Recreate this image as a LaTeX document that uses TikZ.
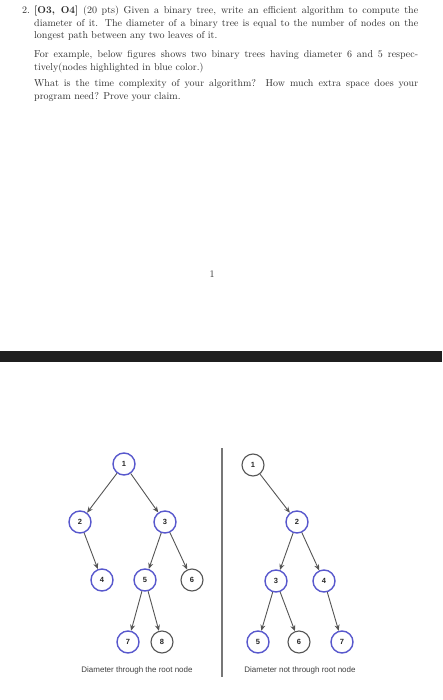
\documentclass[tikz,border=0pt]{standalone}
\usepackage{fontspec}
\usetikzlibrary{arrows.meta}
\newfontfamily\capfont{Liberation Sans}
\definecolor{treeblue}{RGB}{88,88,205}
\definecolor{treegray}{RGB}{85,85,85}
\definecolor{inkgray}{RGB}{45,45,45}
\begin{document}
\begin{tikzpicture}[x=1pt,y=-1pt]
        \tikzstyle{every node} = [inner sep=0pt]
        \tikzstyle{line} = [anchor=base west,font=\fontsize{10}{12}\selectfont,text=inkgray]
        \tikzstyle{bluenode} = [circle,draw=treeblue,line width=1.4pt,fill=white,minimum size=22pt,font=\capfont\fontsize{7.5}{8}\selectfont\bfseries,text=black!85]
        \tikzstyle{graynode} = [bluenode,draw=treegray,line width=1.1pt]
        \tikzstyle{edge} = [draw=treegray,line width=0.9pt,-{Stealth[length=6pt,width=5pt]}]
        \tikzstyle{caption} = [font=\capfont\fontsize{8}{9}\selectfont,text=black!75]
        \useasboundingbox (0,0) rectangle (442,700);
        \fill[white] (0,0) rectangle (442,700);

            % question text
            \begin{scope}
                \node[line] (num) at (22,14) {2.};
                \node[line] (t1) at (34,14) {\makebox[384pt][s]{\textbf{[O3, O4]} (20 pts) Given a binary tree, write an efficient algorithm to compute the}};
                \node[line] (t2) at (34,27) {\makebox[384pt][s]{diameter of it. The diameter of a binary tree is equal to the number of nodes on the}};
                \node[line] (t3) at (34,39) {longest path between any two leaves of it.};
                \node[line] (t4) at (34,58) {\makebox[384pt][s]{For example, below figures shows two binary trees having diameter 6 and 5 respec-}};
                \node[line] (t5) at (34,71) {tively(nodes highlighted in blue color.)};
                \node[line] (t6) at (34,87) {\makebox[384pt][s]{What is the time complexity of your algorithm? How much extra space does your}};
                \node[line] (t7) at (34,100) {program need? Prove your claim.};
                \node[line,anchor=base] (page) at (212,277) {1};
            \end{scope}

            \fill[black!88] (0,351) rectangle (442,362);

            % left tree: diameter through the root
            \begin{scope}
                \node[bluenode] (l1) at (124,464) {1};
                \node[bluenode] (l2) at (80,522) {2};
                \node[bluenode] (l3) at (165,522) {3};
                \node[bluenode] (l4) at (102,580) {4};
                \node[bluenode] (l5) at (145,580) {5};
                \node[graynode] (l6) at (192,580) {6};
                \node[bluenode] (l7) at (128,642) {7};
                \node[graynode] (l8) at (162,642) {8};
                \foreach \a/\b in {l1/l2,l1/l3,l2/l4,l3/l5,l3/l6,l5/l7,l5/l8}{
                    \draw[edge] (\a) -- (\b);
                }
                \node[caption] (lcap) at (137,670) {Diameter through the root node};
            \end{scope}

            \draw[treegray!80,line width=1.2pt] (222,448) -- (222,677);

            % right tree: diameter not through the root
            \begin{scope}
                \node[graynode] (r1) at (253,465) {1};
                \node[bluenode] (r2) at (297,522) {2};
                \node[bluenode] (r3) at (276,581) {3};
                \node[bluenode] (r4) at (324,581) {4};
                \node[bluenode] (r5) at (258,642) {5};
                \node[graynode] (r6) at (299,642) {6};
                \node[bluenode] (r7) at (342,642) {7};
                \foreach \a/\b in {r1/r2,r2/r3,r2/r4,r3/r5,r3/r6,r4/r7}{
                    \draw[edge] (\a) -- (\b);
                }
                \node[caption] (rcap) at (300,670) {Diameter not through root node};
            \end{scope}
\end{tikzpicture}
\end{document}
